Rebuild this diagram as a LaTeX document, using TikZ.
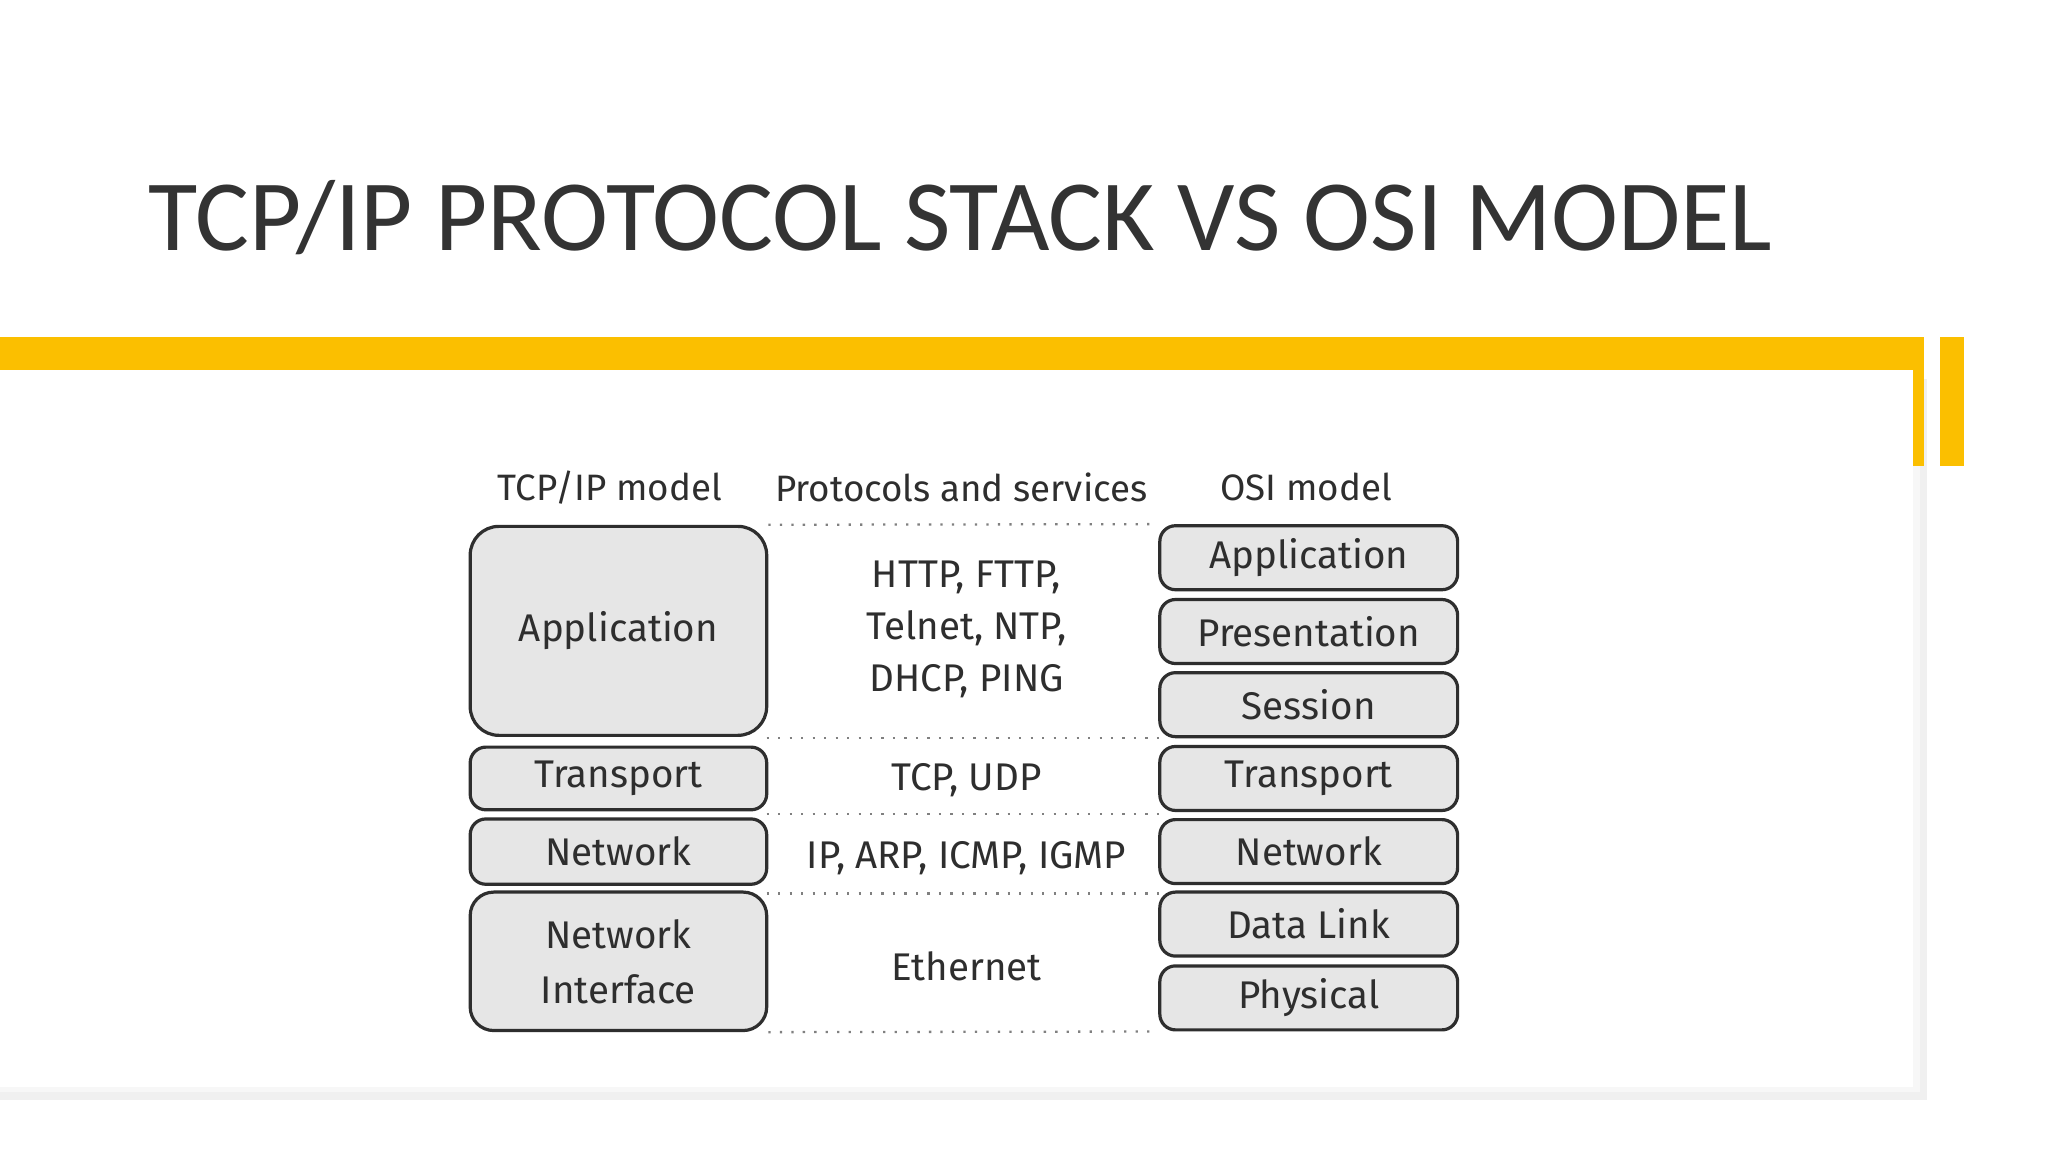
\documentclass[tikz,border=0pt]{standalone}
\usepackage{fontspec}
\setmainfont{Carlito}
\newfontfamily\diag{Fira Sans}
\usetikzlibrary{positioning}
\definecolor{goldbar}{RGB}{251,191,0}
\definecolor{boxfill}{RGB}{230,230,230}
\definecolor{ink}{RGB}{46,46,46}
\tikzset{
  lay/.style={draw=ink, line width=0.7pt, fill=boxfill, rounded corners=1.2mm, inner sep=0pt, text=ink, font=\diag\fontsize{8.4}{11}\selectfont, align=center},
  hdr/.style={text=ink, font=\diag\fontsize{8}{10}\selectfont},
  prot/.style={text=ink, font=\diag\fontsize{8.4}{11.4}\selectfont, align=center},
  sep/.style={dotted, draw=gray, line width=0.5pt}
}
\begin{document}
\begin{tikzpicture}[x=0.1mm,y=-0.1mm]
\useasboundingbox (0,0) rectangle (1568,882);
\fill[white] (0,0) rectangle (1568,882);
% panel shadow and panel
\fill[black!6] (0,290) rectangle (1475,842);
\fill[black!3] (0,286) rectangle (1470,836);
\fill[white] (0,283) rectangle (1465,832);
% yellow bars
\fill[goldbar] (0,258) rectangle (1473,283);
\fill[goldbar] (1465,258) rectangle (1473,357);
\fill[goldbar] (1485,258) rectangle (1504,357);
% title
\node[anchor=base west, inner sep=0pt, text=black!80, font=\fontsize{22}{26}\selectfont] (title) at (113,192) {TCP/IP PROTOCOL STACK VS OSI MODEL};
% headers
\node[hdr] (h1) at (467,373) {TCP/IP model};
\node[hdr] (h2) at (736,373) {Protocols and services};
\node[hdr] (h3) at (1000,373) {OSI model};
% left stack
\node[lay, minimum width=22.7mm, minimum height=16mm, rounded corners=2.2mm] (lapp) at (473.5,483) {Application};
\node[lay, minimum width=22.7mm, minimum height=4.8mm] (ltr) at (473.5,596) {Transport};
\node[lay, minimum width=22.7mm, minimum height=5mm] (lnet) at (473.5,652) {Network};
\node[lay, minimum width=22.7mm, minimum height=10.6mm, rounded corners=1.8mm] (lni) at (473.5,736) {Network\\[1pt]Interface};
% right stack
\foreach \n/\t/\y in {rapp/Application/427, rpre/Presentation/483.5, rses/Session/539.5, rtr/Transport/596, rnet/Network/652, rdl/Data Link/707.5, rph/Physical/764}
  \node[lay, minimum width=22.8mm, minimum height=4.9mm] (\n) at (1002,\y) {\t};
% dotted separators
\draw[sep] (lapp.north east) -- (rapp.north west);
\draw[sep] (587,565) -- (888,565);
\draw[sep] (587,623) -- (888,623);
\draw[sep] (587,684) -- (888,684);
\draw[sep] (lni.south east) -- (rph.south west);
% protocols
\node[prot] (p1) at (740,482) {HTTP, FTTP,\\Telnet, NTP,\\DHCP, PING};
\node[prot] (p2) at (740,597) {TCP, UDP};
\node[prot] (p3) at (740,657) {IP, ARP, ICMP, IGMP};
\node[prot] (p4) at (740,740) {Ethernet};
\end{tikzpicture}
\end{document}
